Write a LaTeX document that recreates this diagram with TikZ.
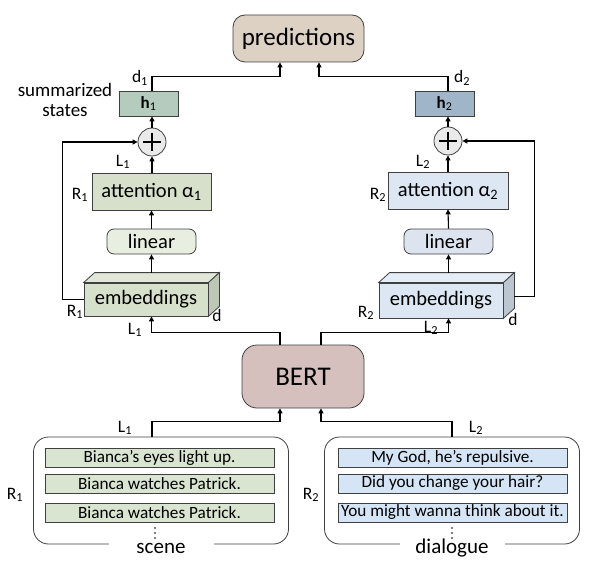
\documentclass[tikz,border=0pt]{standalone}
\usepackage{fontspec}
\setmainfont{Carlito}
\usetikzlibrary{arrows.meta,calc}

\definecolor{predfill}{RGB}{221,209,196}
\definecolor{bertfill}{RGB}{213,192,190}
\definecolor{hone}{RGB}{180,203,190}
\definecolor{htwo}{RGB}{160,181,200}
\definecolor{plusfill}{RGB}{234,234,234}
\definecolor{greenbox}{RGB}{214,224,203}
\definecolor{greenlin}{RGB}{232,239,224}
\definecolor{greentop}{RGB}{224,230,216}
\definecolor{greenside}{RGB}{190,198,181}
\definecolor{bluebox}{RGB}{220,231,243}
\definecolor{bluelin}{RGB}{221,228,239}
\definecolor{bluetop}{RGB}{228,236,245}
\definecolor{blueside}{RGB}{188,198,208}
\definecolor{scenefill}{RGB}{217,229,208}
\definecolor{dialfill}{RGB}{213,229,245}
\definecolor{edge}{RGB}{64,64,64}

\tikzset{
  box/.style={draw=edge, line width=0.8pt, inner sep=0pt, font=\fontsize{20.5}{22}\selectfont},
  face/.style={draw=edge, line width=0.8pt},
  arr/.style={line width=1.1pt, -{Triangle[width=5pt,length=5pt]}},
  lab/.style={inner sep=0pt, font=\fontsize{17.5}{18}\selectfont},
  sent/.style={draw=edge, line width=0.8pt, inner sep=0pt, minimum width=229, minimum height=19, font=\fontsize{17.2}{17}\selectfont},
  group/.style={draw=edge, line width=0.8pt, rounded corners=15, minimum width=255, minimum height=107},
  grouplab/.style={fill=white, inner sep=0pt, minimum width=105, text height=10pt, text depth=4pt, anchor=base, font=\fontsize{21}{22}\selectfont},
}

\begin{document}
\begin{tikzpicture}[x=1pt,y=-1pt]
  \useasboundingbox (0,0) rectangle (596,561);

  % Output
  \node[box, fill=predfill, rounded corners=12, minimum width=131, minimum height=47, font=\fontsize{25}{28}\selectfont] (pred) at (298.5,38.5) {predictions};

  % Summarized states
  \node[box, fill=hone, minimum width=59, minimum height=25, font=\fontsize{17}{17}\selectfont] (h1) at (148.5,103.5) {\textbf{h}\textsubscript{1}};
  \node[box, fill=htwo, minimum width=59, minimum height=25, font=\fontsize{17}{17}\selectfont] (h2) at (444.5,103.5) {\textbf{h}\textsubscript{2}};
  \node[lab, align=center, font=\fontsize{19}{19.5}\selectfont] (summ) at (65,100) {summarized\\states};

  % Sums
  \node[circle, draw=edge, line width=0.8pt, fill=plusfill, minimum size=28] (p1) at (152,142) {};
  \node[circle, draw=edge, line width=0.8pt, fill=plusfill, minimum size=28] (p2) at (448,141) {};
  \foreach \p in {p1,p2} {
    \draw[line width=2pt] ($(\p.center)+(-9,0)$) -- ++(18,0);
    \draw[line width=2pt] ($(\p.center)+(0,-9)$) -- ++(0,18);
  }

  % Left column
  \node[box, fill=greenbox, minimum width=119, minimum height=37] (attL) at (151.5,191.5) {attention α\textsubscript{1}};
  \node[box, fill=greenlin, rounded corners=7, minimum width=89, minimum height=25] (linL) at (151.5,241.5) {linear};
  \node[box, fill=greenbox, minimum width=124, minimum height=33] (embL) at (146,299.5) {embeddings};
  \draw[face, fill=greentop] (embL.north west) -- ++(11,-10) -- ($(embL.north east)+(11,-10)$) -- (embL.north east) -- cycle;
  \draw[face, fill=greenside] (embL.north east) -- ++(11,-10) -- ($(embL.south east)+(11,-10)$) -- (embL.south east) -- cycle;

  % Right column
  \node[box, fill=bluebox, minimum width=120, minimum height=37] (attR) at (448,190.5) {attention α\textsubscript{2}};
  \node[box, fill=bluelin, rounded corners=7, minimum width=89, minimum height=25] (linR) at (448.5,241.5) {linear};
  \node[box, fill=bluebox, minimum width=124, minimum height=35] (embR) at (441,300.5) {embeddings};
  \draw[face, fill=bluetop] (embR.north west) -- ++(11,-10) -- ($(embR.north east)+(11,-10)$) -- (embR.north east) -- cycle;
  \draw[face, fill=blueside] (embR.north east) -- ++(11,-10) -- ($(embR.south east)+(11,-10)$) -- (embR.south east) -- cycle;
  \coordinate (sideR) at ($(embR.east)+(11,-4)$);

  % Encoder
  \node[box, fill=bertfill, rounded corners=15, minimum width=122, minimum height=63, font=\fontsize{27}{30}\selectfont] (bert) at (303,376.5) {BERT};

  % Inputs
  \node[group] (scene) at (161,490.5) {};
  \node[sent, fill=scenefill] (s1) at (159.5,458) {Bianca's eyes light up.};
  \node[sent, fill=scenefill] (s2) at (159.5,483.5) {Bianca watches Patrick.};
  \node[sent, fill=scenefill] (s3) at (159.5,512.5) {Bianca watches Patrick.};
  \node[grouplab] (slab) at ($(scene.south)+(0,9)$) {scene};

  \node[group] (dial) at (452,490.5) {};
  \node[sent, fill=dialfill] (t1) at (452.5,458) {My God, he's repulsive.};
  \node[sent, fill=dialfill] (t2) at (452.5,483.5) {Did you change your hair?};
  \node[sent, fill=dialfill] (t3) at (452.5,512.5) {You might wanna think about it.};
  \node[grouplab] (tlab) at ($(dial.south)+(0,9)$) {dialogue};

  % More rows
  \foreach \x in {155,452}
    \foreach \y in {528,533,538}
      \fill (\x,\y) circle (0.9);

  % Connections
  \draw[arr] ([xshift=-9]scene.north) -- ++(0,-15) -| ([xshift=-23]bert.south);
  \draw[arr] (dial.north) -- ++(0,-15) -| ([xshift=18]bert.south);
  \draw[arr] ([xshift=-23]bert.north) -- ++(0,-12) -| (embL.south -| linL);
  \draw[arr] ([xshift=18]bert.north) -- ++(0,-12) -| (embR.south -| linR);
  \draw[arr] ($(embL.north -| linL)+(0,-10)$) -- (linL.south);
  \draw[arr] ($(embR.north -| linR)+(0,-10)$) -- (linR.south);
  \draw[arr] (linL.north) -- (attL.south);
  \draw[arr] (linR.north) -- (attR.south);
  \draw[arr] (attL.north -| p1) -- (p1.south);
  \draw[arr] (attR.north -| p2) -- (p2.south);
  \draw[arr] (p1.north) -- (h1.south -| p1);
  \draw[arr] (p2.north) -- (h2.south -| p2);
  \draw[arr] (embL.west) -- ++(-21,0) |- (p1.west);
  \draw[arr] (sideR) -- ++(20,0) |- (p2.east);
  \draw[arr] (h1.north -| p1) -- ++(0,-14) -| ([xshift=-18.5]pred.south);
  \draw[arr] (h2.north -| p2) -- ++(0,-14) -| ([xshift=20.5]pred.south);

  % Dimension labels
  \node[lab] (d1) at (140,78) {d\textsubscript{1}};
  \node[lab] (d2) at (462,78) {d\textsubscript{2}};
  \node[lab] (la1) at (123,162) {L\textsubscript{1}};
  \node[lab] (la2) at (423,162) {L\textsubscript{2}};
  \node[lab] (ra1) at (80,195) {R\textsubscript{1}};
  \node[lab] (ra2) at (378,195) {R\textsubscript{2}};
  \node[lab] (re1) at (75,312) {R\textsubscript{1}};
  \node[lab] (re2) at (366,313) {R\textsubscript{2}};
  \node[lab] (de1) at (217,315) {d};
  \node[lab] (de2) at (513,319) {d};
  \node[lab] (le1) at (135,330) {L\textsubscript{1}};
  \node[lab] (le2) at (431,328) {L\textsubscript{2}};
  \node[lab] (ls1) at (125,428) {L\textsubscript{1}};
  \node[lab] (ls2) at (476,428) {L\textsubscript{2}};
  \node[lab] (rs1) at (15,495) {R\textsubscript{1}};
  \node[lab] (rs2) at (311,495) {R\textsubscript{2}};
\end{tikzpicture}
\end{document}
